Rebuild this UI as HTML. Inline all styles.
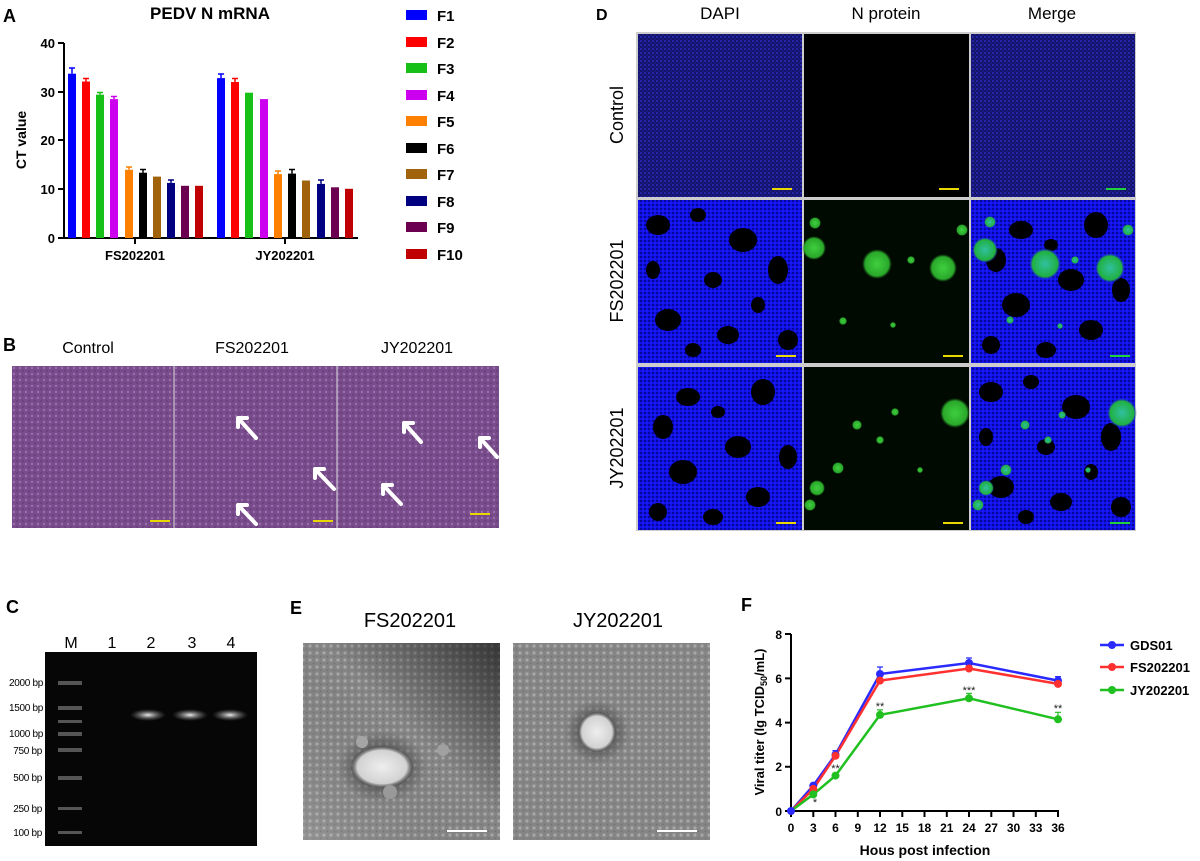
<!DOCTYPE html>
<html><head><meta charset="utf-8"><style>
html,body{margin:0;padding:0;background:#fff;}
svg{display:block;font-family:"Liberation Sans",Arial,sans-serif;}
.b{font-weight:bold;}
</style></head><body>
<svg width="1200" height="861" viewBox="0 0 1200 861" xmlns="http://www.w3.org/2000/svg">
<defs>
 <pattern id="pur" width="6" height="6" patternUnits="userSpaceOnUse"><rect width="6" height="6" fill="#7d4f8e"/><circle cx="2" cy="2" r="1.2" fill="#a77fbf"/><circle cx="5" cy="5" r="0.8" fill="#5a3368"/></pattern>
 <pattern id="dapiC" width="4" height="4" patternUnits="userSpaceOnUse"><rect width="4" height="4" fill="#14146a"/><circle cx="1" cy="1" r="0.9" fill="#3030d8"/><circle cx="3" cy="3" r="0.6" fill="#2424b0"/></pattern>
 <pattern id="dapiI" width="4" height="4" patternUnits="userSpaceOnUse"><rect width="4" height="4" fill="#1010e8"/><circle cx="1" cy="1" r="0.9" fill="#000060"/><circle cx="3" cy="3" r="0.7" fill="#2a2aff"/></pattern>
 <pattern id="em" width="7" height="7" patternUnits="userSpaceOnUse"><rect width="7" height="7" fill="#858585"/><circle cx="2" cy="2" r="1.6" fill="#a8a8a8"/><circle cx="5.5" cy="5.5" r="0.7" fill="#6e6e6e"/></pattern>
 <linearGradient id="emg" x1="0" y1="1" x2="1" y2="0"><stop offset="0" stop-color="#fff" stop-opacity="0.12"/><stop offset="0.55" stop-color="#000" stop-opacity="0"/><stop offset="1" stop-color="#000" stop-opacity="0.6"/></linearGradient>
 <radialGradient id="gblob"><stop offset="0" stop-color="#3fcf3f"/><stop offset="0.8" stop-color="#2aa82a"/><stop offset="1" stop-color="#1a6a1a" stop-opacity="0"/></radialGradient>
 <radialGradient id="mblob"><stop offset="0" stop-color="#30c0a0"/><stop offset="0.8" stop-color="#20b040"/><stop offset="1" stop-color="#2020e0" stop-opacity="0"/></radialGradient>
 <radialGradient id="vir"><stop offset="0" stop-color="#eeeeee"/><stop offset="0.8" stop-color="#d2d2d2"/><stop offset="1" stop-color="#444" stop-opacity="0.5"/></radialGradient>
 <radialGradient id="halo"><stop offset="0.5" stop-color="#333" stop-opacity="0.5"/><stop offset="1" stop-color="#333" stop-opacity="0"/></radialGradient>
 <radialGradient id="band"><stop offset="0" stop-color="#ececec"/><stop offset="1" stop-color="#777" stop-opacity="0"/></radialGradient>
 <g id="holes1" fill="#000">
  <ellipse cx="20" cy="25" rx="12" ry="10"/><ellipse cx="105" cy="40" rx="14" ry="12"/><ellipse cx="75" cy="80" rx="9" ry="8"/>
  <ellipse cx="140" cy="70" rx="10" ry="14"/><ellipse cx="30" cy="120" rx="13" ry="11"/><ellipse cx="90" cy="135" rx="11" ry="9"/>
  <ellipse cx="150" cy="140" rx="10" ry="10"/><ellipse cx="55" cy="150" rx="8" ry="7"/><ellipse cx="120" cy="105" rx="7" ry="8"/>
  <ellipse cx="15" cy="70" rx="7" ry="9"/><ellipse cx="60" cy="15" rx="8" ry="7"/>
 </g>
 <g id="holes2" fill="#000">
  <ellipse cx="50" cy="30" rx="12" ry="9"/><ellipse cx="125" cy="25" rx="12" ry="13"/><ellipse cx="25" cy="60" rx="10" ry="12"/>
  <ellipse cx="100" cy="80" rx="13" ry="11"/><ellipse cx="150" cy="90" rx="9" ry="12"/><ellipse cx="45" cy="105" rx="14" ry="12"/>
  <ellipse cx="120" cy="130" rx="12" ry="10"/><ellipse cx="20" cy="145" rx="9" ry="9"/><ellipse cx="75" cy="150" rx="10" ry="8"/>
  <ellipse cx="80" cy="45" rx="7" ry="6"/>
 </g>
</defs>

<!-- Panel A -->
<text x="3" y="22" font-size="18" class="b">A</text>
<text x="210" y="19" font-size="17" class="b" text-anchor="middle">PEDV N mRNA</text>
<g stroke="#000" stroke-width="2" fill="none">
 <line x1="64" y1="43" x2="64" y2="239"/><line x1="63" y1="238" x2="358" y2="238"/>
 <line x1="58" y1="43" x2="64" y2="43"/><line x1="58" y1="92" x2="64" y2="92"/><line x1="58" y1="140" x2="64" y2="140"/><line x1="58" y1="189" x2="64" y2="189"/><line x1="58" y1="238" x2="64" y2="238"/>
 <line x1="135" y1="238" x2="135" y2="244"/><line x1="285" y1="238" x2="285" y2="244"/>
</g>
<g font-size="13" class="b" text-anchor="end">
 <text x="55" y="48">40</text><text x="55" y="97">30</text><text x="55" y="145">20</text><text x="55" y="194">10</text><text x="55" y="243">0</text>
</g>
<text transform="translate(26,140) rotate(-90)" font-size="14" class="b" text-anchor="middle">CT value</text>
<text x="135" y="260" font-size="13" class="b" text-anchor="middle">FS202201</text>
<text x="285" y="260" font-size="13" class="b" text-anchor="middle">JY202201</text>
<g>
 <rect x="68" y="73.7" width="8" height="164.3" fill="#0000ff"/>
 <rect x="82" y="81.5" width="8" height="156.5" fill="#ff0000"/>
 <rect x="96" y="94.7" width="8" height="143.3" fill="#16c016"/>
 <rect x="110" y="99.1" width="8" height="138.9" fill="#cc00ee"/>
 <rect x="125" y="169.8" width="8" height="68.2" fill="#ff8000"/>
 <rect x="139" y="172.7" width="8" height="65.3" fill="#000"/>
 <rect x="153" y="176.6" width="8" height="61.4" fill="#a0620a"/>
 <rect x="167" y="182.9" width="8" height="55.1" fill="#000080"/>
 <rect x="181" y="185.8" width="8" height="52.2" fill="#6b0050"/>
 <rect x="195" y="185.8" width="8" height="52.2" fill="#c00000"/>
 <rect x="217" y="78.1" width="8" height="159.9" fill="#0000ff"/>
 <rect x="231" y="82" width="8" height="156" fill="#ff0000"/>
 <rect x="245" y="92.7" width="8" height="145.3" fill="#16c016"/>
 <rect x="260" y="99.1" width="8" height="138.9" fill="#cc00ee"/>
 <rect x="274" y="174.1" width="8" height="63.9" fill="#ff8000"/>
 <rect x="288" y="173.6" width="8" height="64.4" fill="#000"/>
 <rect x="302" y="180.5" width="8" height="57.5" fill="#a0620a"/>
 <rect x="317" y="183.9" width="8" height="54.1" fill="#000080"/>
 <rect x="331" y="187.3" width="8" height="50.7" fill="#6b0050"/>
 <rect x="345" y="188.8" width="8" height="49.2" fill="#c00000"/>
</g>
<g stroke-width="1.5">
 <path d="M72 73.7V68M69 68H75" stroke="#0000ff"/><path d="M86 81.5V78.5M83 78.5H89" stroke="#ff0000"/>
 <path d="M100 94.7V92.5M97 92.5H103" stroke="#16c016"/><path d="M114 99.1V96.5M111 96.5H117" stroke="#cc00ee"/>
 <path d="M129 169.8V167M126 167H132" stroke="#ff8000"/><path d="M143 172.7V169.5M140 169.5H146" stroke="#000"/>
 <path d="M221 78.1V74M218 74H224" stroke="#0000ff"/><path d="M235 82V78.5M232 78.5H238" stroke="#ff0000"/>
 <path d="M278 174.1V171M275 171H281" stroke="#ff8000"/><path d="M292 173.6V169.5M289 169.5H295" stroke="#000"/>
 <path d="M321 183.9V180M318 180H324" stroke="#000080"/><path d="M171 182.9V180M168 180H174" stroke="#000080"/>
</g>
<g>
 <rect x="406" y="10" width="21" height="10" fill="#0000ff"/>
 <rect x="406" y="37" width="21" height="10" fill="#ff0000"/>
 <rect x="406" y="63" width="21" height="10" fill="#16c016"/>
 <rect x="406" y="90" width="21" height="10" fill="#cc00ee"/>
 <rect x="406" y="116" width="21" height="10" fill="#ff8000"/>
 <rect x="406" y="143" width="21" height="10" fill="#000"/>
 <rect x="406" y="169" width="21" height="10" fill="#a0620a"/>
 <rect x="406" y="196" width="21" height="10" fill="#000080"/>
 <rect x="406" y="222" width="21" height="10" fill="#6b0050"/>
 <rect x="406" y="249" width="21" height="10" fill="#c00000"/>
</g>
<g font-size="15" class="b">
 <text x="437" y="21">F1</text><text x="437" y="48">F2</text><text x="437" y="74">F3</text><text x="437" y="101">F4</text><text x="437" y="127">F5</text>
 <text x="437" y="154">F6</text><text x="437" y="180">F7</text><text x="437" y="207">F8</text><text x="437" y="233">F9</text><text x="437" y="260">F10</text>
</g>

<!-- Panel B -->
<text x="3" y="351" font-size="18" class="b">B</text>
<g font-size="16" text-anchor="middle">
 <text x="88" y="353">Control</text><text x="252" y="353">FS202201</text><text x="417" y="353">JY202201</text>
</g>
<rect x="12" y="366" width="487" height="162" fill="url(#pur)"/>
<rect x="12" y="366" width="487" height="162" fill="#6a3f80" opacity="0.25"/>
<line x1="174" y1="366" x2="174" y2="528" stroke="#ddd" stroke-width="1"/>
<line x1="337" y1="366" x2="337" y2="528" stroke="#ddd" stroke-width="1"/>
<g fill="#e8d800"><rect x="150" y="520" width="20" height="2"/><rect x="313" y="520" width="20" height="2"/><rect x="470" y="513" width="20" height="2"/></g>
<g stroke="#fff" stroke-width="4" fill="none" stroke-linecap="round">
 <path d="M256 438L238 418M238 418v9M238 418h9"/><path d="M334 489L315 469M315 469v9M315 469h9"/>
 <path d="M256 524L238 505M238 505v9M238 505h9"/><path d="M421 442L404 423M404 423v9M404 423h9"/>
 <path d="M497 457L480 438M480 438v9M480 438h9"/><path d="M401 504L383 485M383 485v9M383 485h9"/>
</g>

<!-- Panel D -->
<text x="596" y="20" font-size="16" class="b">D</text>
<g font-size="17" text-anchor="middle">
 <text x="720" y="19">DAPI</text><text x="886" y="19">N protein</text><text x="1052" y="19">Merge</text>
</g>
<g font-size="18" text-anchor="middle">
 <text transform="translate(623,115) rotate(-90)">Control</text>
 <text transform="translate(623,281) rotate(-90)">FS202201</text>
 <text transform="translate(623,448) rotate(-90)">JY202201</text>
</g>
<rect x="636" y="32" width="500" height="499" fill="#ccc"/>
<rect x="638" y="34" width="164" height="163" fill="url(#dapiC)"/>
<rect x="804" y="34" width="165" height="163" fill="#000"/>
<rect x="971" y="34" width="164" height="163" fill="url(#dapiC)"/>
<rect x="638" y="200" width="164" height="163" fill="url(#dapiI)"/>
<use href="#holes1" x="638" y="200"/>
<rect x="804" y="200" width="165" height="163" fill="#010a01"/>
<g fill="url(#gblob)">
 <circle cx="814" cy="248" r="12"/><circle cx="877" cy="264" r="15"/><circle cx="943" cy="268" r="14"/><circle cx="815" cy="223" r="6"/>
 <circle cx="962" cy="230" r="6"/><circle cx="911" cy="260" r="4"/><circle cx="843" cy="321" r="4"/><circle cx="893" cy="325" r="3"/>
</g>
<rect x="971" y="200" width="164" height="163" fill="url(#dapiI)"/>
<use href="#holes2" x="971" y="200"/>
<g fill="url(#mblob)">
 <circle cx="985" cy="250" r="13"/><circle cx="1045" cy="264" r="16"/><circle cx="1110" cy="268" r="15"/><circle cx="990" cy="222" r="6"/>
 <circle cx="1128" cy="230" r="6"/><circle cx="1075" cy="260" r="4"/><circle cx="1010" cy="320" r="4"/><circle cx="1060" cy="326" r="3"/>
</g>
<rect x="638" y="367" width="164" height="163" fill="url(#dapiI)"/>
<use href="#holes2" x="638" y="367"/>
<rect x="804" y="367" width="165" height="163" fill="#010a01"/>
<g fill="url(#gblob)">
 <circle cx="955" cy="413" r="15"/><circle cx="817" cy="488" r="8"/><circle cx="838" cy="468" r="6"/><circle cx="895" cy="412" r="4"/>
 <circle cx="857" cy="425" r="5"/><circle cx="880" cy="440" r="4"/><circle cx="810" cy="505" r="6"/><circle cx="920" cy="470" r="3"/>
</g>
<rect x="971" y="367" width="164" height="163" fill="url(#dapiI)"/>
<use href="#holes1" x="971" y="367"/>
<g fill="url(#mblob)">
 <circle cx="1122" cy="413" r="15"/><circle cx="986" cy="488" r="8"/><circle cx="1006" cy="470" r="6"/><circle cx="1062" cy="415" r="4"/>
 <circle cx="1025" cy="425" r="5"/><circle cx="1048" cy="440" r="4"/><circle cx="978" cy="505" r="6"/><circle cx="1088" cy="470" r="3"/>
</g>
<g fill="#e8d800"><rect x="772" y="188" width="20" height="2"/><rect x="939" y="188" width="20" height="2"/><rect x="776" y="355" width="20" height="2"/><rect x="943" y="355" width="20" height="2"/><rect x="776" y="522" width="20" height="2"/><rect x="943" y="522" width="20" height="2"/></g>
<g fill="#20d040"><rect x="1106" y="188" width="20" height="2"/><rect x="1110" y="355" width="20" height="2"/><rect x="1110" y="522" width="20" height="2"/></g>

<!-- Panel C -->
<text x="6" y="613" font-size="18" class="b">C</text>
<g font-size="16" text-anchor="middle">
 <text x="71" y="648">M</text><text x="112" y="648">1</text><text x="151" y="648">2</text><text x="192" y="648">3</text><text x="231" y="648">4</text>
</g>
<rect x="45" y="652" width="212" height="194" fill="#060606"/>
<g font-size="10" text-anchor="end" style="letter-spacing:-0.3px">
 <text x="43" y="686">2000 bp</text><text x="43" y="711">1500 bp</text><text x="43" y="737">1000 bp</text><text x="42" y="754">750 bp</text>
 <text x="42" y="781">500 bp</text><text x="42" y="812">250 bp</text><text x="42" y="836">100 bp</text>
</g>
<g fill="#555">
 <rect x="58" y="681" width="24" height="4"/><rect x="58" y="706" width="24" height="4"/><rect x="58" y="720" width="24" height="3"/><rect x="58" y="732" width="24" height="4"/>
 <rect x="58" y="748" width="24" height="4"/><rect x="58" y="776" width="24" height="4"/><rect x="58" y="807" width="24" height="3"/><rect x="58" y="831" width="24" height="3"/>
</g>
<g fill="url(#band)">
 <ellipse cx="148" cy="715" rx="18" ry="6"/><ellipse cx="190" cy="715" rx="18" ry="6"/><ellipse cx="230" cy="715" rx="18" ry="6"/>
</g>

<!-- Panel E -->
<text x="290" y="614" font-size="18" class="b">E</text>
<g font-size="20" text-anchor="middle">
 <text x="410" y="627">FS202201</text><text x="618" y="627">JY202201</text>
</g>
<rect x="303" y="643" width="197" height="197" fill="url(#em)"/>
<rect x="303" y="643" width="197" height="197" fill="url(#emg)"/>
<ellipse cx="382" cy="767" rx="44" ry="36" fill="url(#halo)"/>
<ellipse cx="382" cy="767" rx="31" ry="21" fill="url(#vir)"/>
<circle cx="362" cy="742" r="6" fill="#a5a5a5"/><circle cx="390" cy="792" r="7" fill="#999"/><circle cx="443" cy="750" r="6" fill="#a0a0a0"/>
<rect x="447" y="830" width="40" height="2" fill="#fff"/>
<rect x="513" y="643" width="197" height="197" fill="url(#em)"/>
<ellipse cx="597" cy="732" rx="32" ry="32" fill="url(#halo)"/>
<ellipse cx="597" cy="732" rx="19" ry="20" fill="url(#vir)"/>
<rect x="657" y="830" width="40" height="2" fill="#fff"/>

<!-- Panel F -->
<text x="741" y="611" font-size="18" class="b">F</text>
<g stroke="#000" stroke-width="2" fill="none">
 <line x1="791" y1="634" x2="791" y2="812"/><line x1="790" y1="811" x2="1059" y2="811"/>
 <path d="M785 634H791M785 678.4H791M785 722.6H791M785 766.8H791M785 811H791"/>
 <path d="M791 811v6M813.3 811v6M835.5 811v6M857.8 811v6M880 811v6M902.3 811v6M924.5 811v6M946.8 811v6M969 811v6M991.3 811v6M1013.5 811v6M1035.8 811v6M1058 811v6"/>
</g>
<g font-size="12" class="b" text-anchor="end">
 <text x="782" y="639">8</text><text x="782" y="683">6</text><text x="782" y="727">4</text><text x="782" y="771">2</text><text x="782" y="816">0</text>
</g>
<g font-size="12" class="b" text-anchor="middle">
 <text x="791" y="832">0</text><text x="813.3" y="832">3</text><text x="835.5" y="832">6</text><text x="857.8" y="832">9</text><text x="880" y="832">12</text>
 <text x="902.3" y="832">15</text><text x="924.5" y="832">18</text><text x="946.8" y="832">21</text><text x="969" y="832">24</text><text x="991.3" y="832">27</text>
 <text x="1013.5" y="832">30</text><text x="1035.8" y="832">33</text><text x="1058" y="832">36</text>
</g>
<text x="925" y="855" font-size="14" class="b" text-anchor="middle">Hous post infection</text>
<text transform="translate(764,722) rotate(-90)" font-size="13" class="b" text-anchor="middle">Viral titer (lg TCID<tspan font-size="9" dy="3">50</tspan><tspan dy="-3">/mL)</tspan></text>
<g fill="none" stroke-width="2.5">
 <polyline points="791,811 813.3,785.6 835.5,754.6 880,674 969,663 1058,680.6" stroke="#2a2aff"/>
 <polyline points="791,811 813.3,788.9 835.5,755.8 880,680.6 969,668.5 1058,683.9" stroke="#ff3030"/>
 <polyline points="791,811 813.3,794.4 835.5,775.6 880,714.9 969,698.3 1058,719.3" stroke="#20c020"/>
</g>
<g stroke-width="1.2" fill="none">
 <path d="M880 674v-7M877 667h6M969 663v-5M966 658h6M1058 680.6v-4M1055 676.6h6M835.5 754.6v-4M832.5 750.6h6" stroke="#2a2aff"/>
 <path d="M880 714.9v-5M877 709.9h6M969 698.3v-5M966 693.3h6M1058 719.3v-7M1055 712.3h6" stroke="#20c020"/>
</g>
<g fill="#2a2aff"><circle cx="791" cy="811" r="4"/><circle cx="813.3" cy="785.6" r="4"/><circle cx="835.5" cy="754.6" r="4"/><circle cx="880" cy="674" r="4"/><circle cx="969" cy="663" r="4"/><circle cx="1058" cy="680.6" r="4"/></g>
<g fill="#ff3030"><circle cx="813.3" cy="788.9" r="4"/><circle cx="835.5" cy="755.8" r="4"/><circle cx="880" cy="680.6" r="4"/><circle cx="969" cy="668.5" r="4"/><circle cx="1058" cy="683.9" r="4"/></g>
<g fill="#20c020"><circle cx="813.3" cy="794.4" r="4"/><circle cx="835.5" cy="775.6" r="4"/><circle cx="880" cy="714.9" r="4"/><circle cx="969" cy="698.3" r="4"/><circle cx="1058" cy="719.3" r="4"/></g>
<g font-size="11" text-anchor="middle" fill="#222">
 <text x="815" y="806">*</text><text x="835.5" y="772">**</text><text x="880" y="710">**</text><text x="969" y="694">***</text><text x="1058" y="712">**</text>
</g>
<g stroke-width="2.5">
 <line x1="1100" y1="645" x2="1124" y2="645" stroke="#2a2aff"/><circle cx="1112" cy="645" r="4" fill="#2a2aff"/>
 <line x1="1100" y1="667" x2="1124" y2="667" stroke="#ff3030"/><circle cx="1112" cy="667" r="4" fill="#ff3030"/>
 <line x1="1100" y1="690" x2="1124" y2="690" stroke="#20c020"/><circle cx="1112" cy="690" r="4" fill="#20c020"/>
</g>
<g font-size="13" class="b">
 <text x="1130" y="650">GDS01</text><text x="1130" y="672">FS202201</text><text x="1130" y="695">JY202201</text>
</g>
</svg>
</body></html>
